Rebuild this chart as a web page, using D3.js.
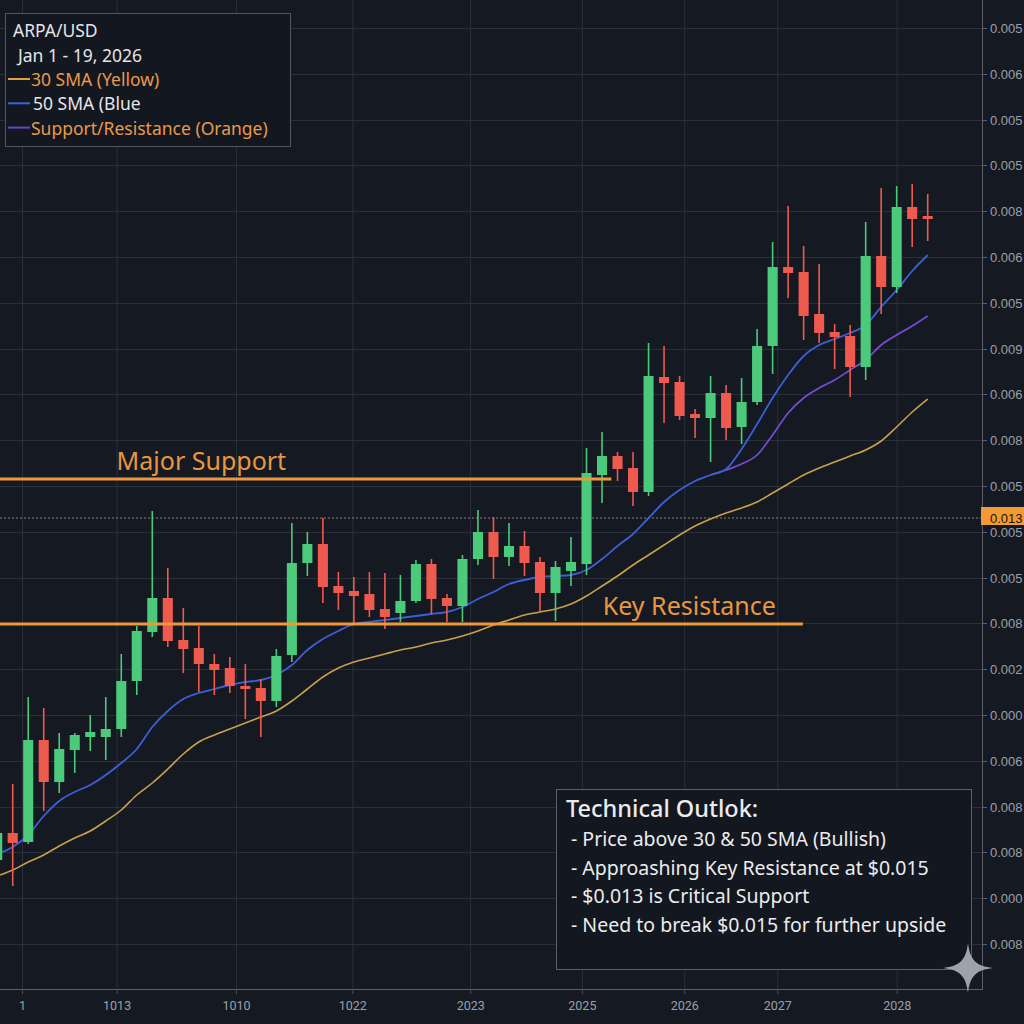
<!DOCTYPE html>
<html>
<head>
<meta charset="utf-8">
<script src="https://cdn.jsdelivr.net/npm/d3@7"></script>
<style>
  html, body { margin: 0; padding: 0; background: #151922; overflow: hidden; }
  svg { display: block; font-family: "Noto Sans", "Open Sans", sans-serif; }
</style>
</head>
<body>
<svg id="chart" width="1024" height="1024"></svg>
<script>
// ARPA/USD daily candles, oldest first (USD)
const open = [0.00958, 0.00985, 0.00976, 0.01078, 0.01036, 0.01068, 0.01081, 0.01081, 0.01089, 0.01137,
  0.01186, 0.01220, 0.01178, 0.01170, 0.01154, 0.01150, 0.01132, 0.01130, 0.01117, 0.01163,
  0.01255, 0.01274, 0.01232, 0.01227, 0.01224, 0.01209, 0.01205, 0.01217, 0.01254, 0.01220,
  0.01212, 0.01259, 0.01286, 0.01261, 0.01272, 0.01256, 0.01225, 0.01247, 0.01254, 0.01343,
  0.01362, 0.01350, 0.01326, 0.01441, 0.01436, 0.01404, 0.01400, 0.01425, 0.01391, 0.01416,
  0.01472, 0.01551, 0.01546, 0.01504, 0.01486, 0.01482, 0.01451, 0.01562, 0.01531, 0.01611,
  0.01602];
const high = [0.00990, 0.01034, 0.01121, 0.01110, 0.01085, 0.01085, 0.01103, 0.01121, 0.01164, 0.01192,
  0.01307, 0.01250, 0.01210, 0.01192, 0.01164, 0.01161, 0.01154, 0.01139, 0.01169, 0.01295,
  0.01286, 0.01300, 0.01246, 0.01241, 0.01246, 0.01245, 0.01243, 0.01258, 0.01259, 0.01224,
  0.01263, 0.01308, 0.01301, 0.01295, 0.01287, 0.01261, 0.01257, 0.01281, 0.01370, 0.01386,
  0.01366, 0.01366, 0.01475, 0.01472, 0.01442, 0.01409, 0.01442, 0.01433, 0.01440, 0.01489,
  0.01576, 0.01612, 0.01572, 0.01554, 0.01494, 0.01493, 0.01596, 0.01630, 0.01632, 0.01634,
  0.01624];
const low = [0.00952, 0.00932, 0.00974, 0.01007, 0.01025, 0.01045, 0.01067, 0.01058, 0.01081, 0.01123,
  0.01181, 0.01171, 0.01145, 0.01126, 0.01123, 0.01125, 0.01099, 0.01081, 0.01111, 0.01156,
  0.01242, 0.01215, 0.01208, 0.01195, 0.01201, 0.01189, 0.01196, 0.01215, 0.01204, 0.01196,
  0.01196, 0.01253, 0.01239, 0.01252, 0.01242, 0.01207, 0.01197, 0.01232, 0.01243, 0.01315,
  0.01337, 0.01312, 0.01322, 0.01395, 0.01398, 0.01380, 0.01356, 0.01378, 0.01374, 0.01413,
  0.01444, 0.01520, 0.01478, 0.01475, 0.01449, 0.01421, 0.01438, 0.01504, 0.01525, 0.01571,
  0.01577];
const close = [0.00985, 0.00975, 0.01078, 0.01036, 0.01069, 0.01083, 0.01086, 0.01089, 0.01137, 0.01187,
  0.01220, 0.01177, 0.01169, 0.01154, 0.01148, 0.01132, 0.01129, 0.01117, 0.01162, 0.01255,
  0.01274, 0.01231, 0.01225, 0.01222, 0.01208, 0.01201, 0.01217, 0.01254, 0.01219, 0.01212,
  0.01259, 0.01286, 0.01261, 0.01272, 0.01255, 0.01225, 0.01251, 0.01256, 0.01345, 0.01362,
  0.01349, 0.01326, 0.01442, 0.01435, 0.01402, 0.01400, 0.01425, 0.01390, 0.01416, 0.01472,
  0.01551, 0.01545, 0.01502, 0.01485, 0.01481, 0.01451, 0.01562, 0.01531, 0.01611, 0.01599,
  0.01599];

// moving averages as drawn on the chart
const sma30 = [0.00942, 0.00948, 0.00956, 0.00963, 0.00972, 0.00980, 0.00987, 0.00997, 0.01008, 0.01023,
  0.01035, 0.01049, 0.01064, 0.01076, 0.01083, 0.01089, 0.01095, 0.01101, 0.01107, 0.01117,
  0.01129, 0.01141, 0.01150, 0.01156, 0.01160, 0.01164, 0.01168, 0.01171, 0.01175, 0.01178,
  0.01182, 0.01187, 0.01193, 0.01198, 0.01203, 0.01206, 0.01209, 0.01214, 0.01222, 0.01232,
  0.01242, 0.01253, 0.01263, 0.01273, 0.01283, 0.01292, 0.01299, 0.01305, 0.01310, 0.01316,
  0.01325, 0.01334, 0.01343, 0.01350, 0.01356, 0.01362, 0.01368, 0.01377, 0.01391, 0.01406,
  0.01419];
const sma50 = [0.00964, 0.00971, 0.00983, 0.01002, 0.01017, 0.01026, 0.01033, 0.01043, 0.01055, 0.01069,
  0.01091, 0.01107, 0.01119, 0.01125, 0.01129, 0.01133, 0.01136, 0.01138, 0.01143, 0.01153,
  0.01168, 0.01179, 0.01187, 0.01194, 0.01196, 0.01198, 0.01200, 0.01202, 0.01204, 0.01206,
  0.01211, 0.01219, 0.01226, 0.01234, 0.01238, 0.01241, 0.01242, 0.01243, 0.01248, 0.01259,
  0.01272, 0.01284, 0.01300, 0.01316, 0.01328, 0.01337, 0.01343, 0.01349, 0.01369, 0.01394,
  0.01420, 0.01443, 0.01462, 0.01473, 0.01479, 0.01485, 0.01493, 0.01511, 0.01528, 0.01547,
  0.01563];
// purple line only splits off the blue one near the end
const srLine = Array(46).fill(null).concat([0.01343, 0.01348, 0.01354, 0.01363, 0.01383, 0.01405, 0.01420,
  0.01430, 0.01438, 0.01448, 0.01458, 0.01473, 0.01483, 0.01492, 0.01502]);

// horizontal levels
const levelNames = ["Major Support", "Key Resistance"];
const levelPrices = [0.01339, 0.01194];
const levelEnds = [39.6, 51.95];   // candle index where the line stops
const lastPrice = 0.0130;

// axes
const priceTicks = [0.01790, 0.01744, 0.01698, 0.01653, 0.01607, 0.01561, 0.01515, 0.01469, 0.01424, 0.01378,
  0.01332, 0.01286, 0.01240, 0.01195, 0.01149, 0.01103, 0.01057, 0.01011, 0.00966, 0.00920, 0.00874];
const priceTickLabels = ["0.005", "0.006", "0.005", "0.005", "0.008", "0.006", "0.005", "0.009", "0.006", "0.008",
  "0.005", "0.005", "0.005", "0.008", "0.002", "0.000", "0.006", "0.008", "0.008", "0.000", "0.008"];
const dateTicks = [1.6, 7.7, 15.4, 22.9, 30.5, 37.7, 44.3, 50.3, 58.0];
const dateTickLabels = ["1", "1013", "1010", "1022", "2023", "2025", "2026", "2027", "2028"];

const legendTitle = ["ARPA/USD", "Jan 1 - 19, 2026"];
const legendItems = ["30 SMA (Yellow)", "50 SMA (Blue", "Support/Resistance (Orange)"];
const outlookTitle = "Technical Outlok:";
const outlookLines = [
  "- Price above 30 & 50 SMA (Bullish)",
  "- Approashing Key Resistance at $0.015",
  "- $0.013 is Critical Support",
  "- Need to break $0.015 for further upside"
];

const upColor = "#4bca7c", downColor = "#ef5a4f";
const plotRight = 982, plotBottom = 989;

const svg = d3.select("#chart");
svg.append("rect").attr("width", 1024).attr("height", 1024).attr("fill", "#151922");

const x = d3.scaleLinear().domain([0, 60]).range([-2.8, 927.7]);
const y = d3.scaleLinear().domain([0.00874, 0.01790]).range([944, 28]);

// grid
svg.append("g")
    .attr("transform", `translate(${plotRight},0)`)
    .call(d3.axisLeft(y).tickValues(priceTicks).tickSize(plotRight).tickFormat(""))
    .call(g => g.select(".domain").remove())
    .call(g => g.selectAll("line").attr("stroke", "#2a2f3b"));
svg.append("g")
    .attr("transform", `translate(0,${plotBottom})`)
    .call(d3.axisTop(x).tickValues(dateTicks).tickSize(plotBottom).tickFormat(""))
    .call(g => g.select(".domain").remove())
    .call(g => g.selectAll("line").attr("stroke", "#2a2f3b"));

// last price dotted line
svg.append("line")
    .attr("x1", 0).attr("x2", plotRight)
    .attr("y1", y(lastPrice)).attr("y2", y(lastPrice))
    .attr("stroke", "#8d7f70").attr("stroke-width", 1.2).attr("stroke-dasharray", "2,2");

// moving averages
const line = d3.line()
    .defined(d => d != null)
    .x((d, i) => x(i))
    .y(d => y(d))
    .curve(d3.curveMonotoneX);

svg.append("path").attr("d", line(sma30))
    .attr("fill", "none").attr("stroke", "#c9a04b").attr("stroke-width", 1.6);
svg.append("path").attr("d", line(srLine))
    .attr("fill", "none").attr("stroke", "#7a4bd4").attr("stroke-width", 1.7);
svg.append("path").attr("d", line(sma50))
    .attr("fill", "none").attr("stroke", "#3c5fd8").attr("stroke-width", 1.8);

// candles
const candles = d3.range(open.length).map(i => ({ i, o: open[i], h: high[i], l: low[i], c: close[i] }));
const bw = (x(1) - x(0)) * 0.65;
const cg = svg.append("g");
cg.selectAll("line").data(candles).join("line")
    .attr("x1", d => x(d.i)).attr("x2", d => x(d.i))
    .attr("y1", d => y(d.h)).attr("y2", d => y(d.l))
    .attr("stroke", d => d.c >= d.o ? upColor : downColor)
    .attr("stroke-width", 1.6);
cg.selectAll("rect").data(candles).join("rect")
    .attr("x", d => x(d.i) - bw / 2)
    .attr("width", bw)
    .attr("y", d => y(Math.max(d.o, d.c)))
    .attr("height", d => Math.max(2, Math.abs(y(d.o) - y(d.c))))
    .attr("fill", d => d.c >= d.o ? upColor : downColor);

// support / resistance levels
const levelLabelAt = [7.7, 39.05];
levelPrices.forEach((p, k) => {
  svg.append("line")
      .attr("x1", 0).attr("x2", x(levelEnds[k]))
      .attr("y1", y(p)).attr("y2", y(p))
      .attr("stroke", "#f0973b").attr("stroke-width", 3);
  svg.append("text")
      .attr("x", x(levelLabelAt[k])).attr("y", y(p) - 9)
      .attr("fill", "#e9973f").attr("font-size", 25)
      .text(levelNames[k]);
});

// right price axis
svg.append("g")
    .attr("transform", `translate(${plotRight},0)`)
    .call(d3.axisRight(y).tickValues(priceTicks).tickSize(5).tickPadding(3)
        .tickFormat((d, i) => priceTickLabels[i]))
    .call(g => g.select(".domain").attr("stroke", "#5a5f6b").attr("d", `M0.5,0V${plotBottom + 1}`))
    .call(g => g.selectAll("line").attr("stroke", "#5a5f6b"))
    .call(g => g.selectAll("text").attr("fill", "#9aa0ab").attr("font-size", 13)
        .attr("font-family", "'Liberation Sans', Arial, sans-serif"));

// bottom axis
svg.append("g")
    .attr("transform", `translate(0,${plotBottom})`)
    .call(d3.axisBottom(x).tickValues(dateTicks).tickSize(5).tickPadding(7)
        .tickFormat((d, i) => dateTickLabels[i]))
    .call(g => g.select(".domain").attr("stroke", "#5a5f6b").attr("d", `M0,0.5H${plotRight}`))
    .call(g => g.selectAll("line").attr("stroke", "#4a4f5b"))
    .call(g => g.selectAll("text").attr("fill", "#9aa0ab").attr("font-size", 12.5)
        .attr("font-family", "Roboto, sans-serif"));

// last price tag
const tag = svg.append("g").attr("transform", `translate(${plotRight},${y(lastPrice)})`);
tag.append("rect").attr("x", -1).attr("y", -11).attr("width", 50).attr("height", 18).attr("fill", "#f39a35");
tag.append("text").attr("x", 8).attr("y", 4.5)
    .attr("fill", "#241608").attr("font-size", 13)
    .attr("font-family", "'Liberation Sans', Arial, sans-serif")
    .text(lastPrice.toFixed(3));

// legend
const lg = svg.append("g");
lg.append("rect").attr("x", 5.5).attr("y", 13.5).attr("width", 285).attr("height", 133)
    .attr("fill", "#131720").attr("stroke", "#50555f");
lg.append("text").attr("x", 13).attr("y", 37).attr("fill", "#e4e5e8").attr("font-size", 17.5).text(legendTitle[0]);
lg.append("text").attr("x", 18).attr("y", 62).attr("fill", "#e4e5e8").attr("font-size", 17.5).text(legendTitle[1]);
const legendSwatch = ["#e3a043", "#3c62dc", "#6b44c6"];
const legendText = ["#e9994a", "#e4e5e8", "#e9994a"];
legendItems.forEach((t, k) => {
  const by = 86 + k * 24.3;
  lg.append("line").attr("x1", 8).attr("x2", 30).attr("y1", by - 7).attr("y2", by - 7)
      .attr("stroke", legendSwatch[k]).attr("stroke-width", 2);
  lg.append("text").attr("x", k === 1 ? 33 : 31).attr("y", by)
      .attr("fill", legendText[k]).attr("font-size", 17.5).text(t);
});

// technical outlook box
const ob = svg.append("g");
ob.append("rect").attr("x", 556.5).attr("y", 789.5).attr("width", 415).attr("height", 180)
    .attr("fill", "#131720").attr("stroke", "#5a5f6a");
ob.append("text").attr("x", 566).attr("y", 817).attr("fill", "#ececee")
    .attr("font-size", 23.5).attr("font-weight", 500).text(outlookTitle);
outlookLines.forEach((t, k) => {
  ob.append("text").attr("x", 571).attr("y", 846 + k * 28.7)
      .attr("fill", "#ececee").attr("font-size", 19.5).text(t);
});

// sparkle mark, bottom right
svg.append("path")
    .attr("transform", "translate(968,968)")
    .attr("d", "M0,-25C2,-8 8,-2 25,0C8,2 2,8 0,25C-2,8 -8,2 -25,0C-8,-2 -2,-8 0,-25Z")
    .attr("fill", "#9ea2ab");
</script>
</body>
</html>
